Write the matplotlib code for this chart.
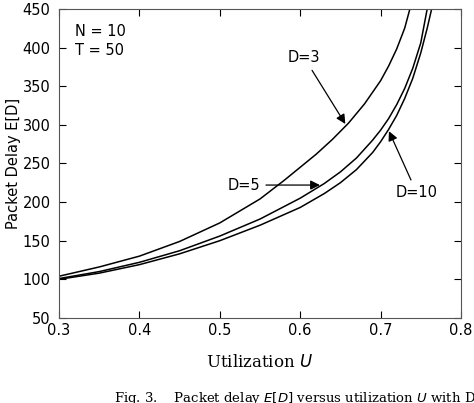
import matplotlib
matplotlib.use("Agg")
import matplotlib.pyplot as plt

u3 = [0.30, 0.35, 0.40, 0.45, 0.50, 0.55, 0.58, 0.60, 0.62, 0.64, 0.66, 0.68, 0.70, 0.71, 0.72, 0.73, 0.737]
d3 = [104, 116, 130, 149, 173, 204, 228, 245, 262, 281, 302, 327, 357, 376, 398, 425, 452]
u5 = [0.30, 0.35, 0.40, 0.45, 0.50, 0.55, 0.60, 0.63, 0.65, 0.67, 0.69, 0.70, 0.71, 0.72, 0.73, 0.74, 0.75, 0.758]
d5 = [101, 110, 122, 137, 156, 178, 205, 224, 239, 257, 280, 293, 308, 326, 347, 373, 406, 450]
u10 = [0.30, 0.35, 0.40, 0.45, 0.50, 0.55, 0.60, 0.63, 0.65, 0.67, 0.69, 0.70, 0.71, 0.72, 0.73, 0.74, 0.75, 0.758, 0.764]
d10 = [100, 108, 119, 133, 150, 170, 193, 211, 225, 242, 264, 278, 294, 312, 334, 360, 393, 425, 452]

fig = plt.figure(figsize=(4.74, 4.03), dpi=100)
ax = fig.add_axes([0.1245, 0.211, 0.848, 0.767])
for u, d in [(u3, d3), (u5, d5), (u10, d10)]:
    ax.plot(u, d, color="black", lw=1.1)
ax.set_xlim(0.3, 0.8)
ax.set_ylim(50, 450)
ax.set_xticks([0.3, 0.4, 0.5, 0.6, 0.7, 0.8])
ax.set_yticks(range(50, 451, 50))
ax.tick_params(direction="in", top=True, right=True, labelsize=10.5, length=5)
ax.tick_params(axis="y", pad=6)
for s in ax.spines.values():
    s.set_color("#555555")
ax.set_ylabel("Packet Delay E[D]", fontsize=10.5, labelpad=1)
ax.set_xlabel("Utilization $U$", family="DejaVu Serif", fontsize=12, labelpad=12)
ax.text(0.32, 430, "N = 10\nT = 50", fontsize=10.5, va="top", linespacing=1.3)
ap = dict(arrowstyle="-|>", color="black", lw=0.9, mutation_scale=14)
ax.annotate("D=3", xy=(0.658, 298), xytext=(0.605, 381), fontsize=10.5, ha="center", arrowprops=ap)
ax.annotate("D=5", xy=(0.628, 222), xytext=(0.51, 222), fontsize=10.5, va="center", arrowprops=ap)
ax.annotate("D=10", xy=(0.709, 295), xytext=(0.745, 212), fontsize=10.5, ha="center", va="center", arrowprops=ap)
fig.text(0.24, 0.012, "Fig. 3.    Packet delay $E[D]$ versus utilization $U$ with D", family="DejaVu Serif", fontsize=9.5, va="center")
fig.savefig("out.png", dpi=100)
